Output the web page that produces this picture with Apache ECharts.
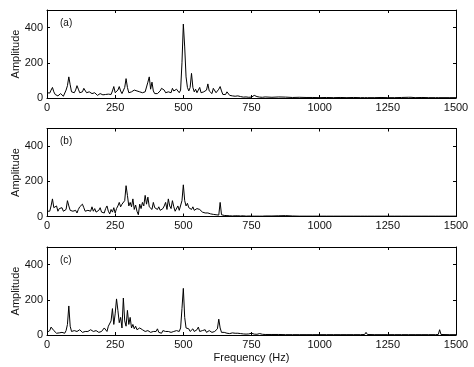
<!DOCTYPE html>
<html><head><meta charset="utf-8">
<script src="https://cdn.jsdelivr.net/npm/echarts@6/dist/echarts.min.js"></script>
<style>html,body{margin:0;padding:0;background:#fff}#c{width:474px;height:367px}</style>
</head><body><div id="c"></div>
<script>
const freqs = [
0,5,10,15,20,25,30,35,40,45,50,55,60,65,70,75,80,85,90,95,
100,105,110,115,120,125,130,135,140,145,150,155,160,165,170,175,180,185,190,195,
200,205,210,215,220,225,230,235,240,245,250,255,260,265,270,275,280,285,290,295,
300,305,310,315,320,325,330,335,340,345,350,355,360,365,370,375,380,385,390,395,
400,405,410,415,420,425,430,435,440,445,450,455,460,465,470,475,480,485,490,495,
500,505,510,515,520,525,530,535,540,545,550,555,560,565,570,575,580,585,590,595,
600,605,610,615,620,625,630,635,640,645,650,655,660,665,670,675,680,685,690,695,
700,710,720,730,740,750,760,770,780,790,800,
825,850,875,900,925,950,975,1000,1025,1050,1075,1100,1125,1150,1165,1170,1175,1200,
1225,1250,1275,1300,1325,1330,1335,1350,1375,1400,1425,1435,1440,1445,1450,1475,1500];

const ampA = [
30,25,28,45,60,35,20,15,12,18, 25,15,10,20,45,70,120,75,35,25,
30,45,70,50,30,40,35,55,50,30, 25,35,40,25,20,30,35,15,20,25,
20,18,25,20,15,22,25,20,40,65, 30,20,45,65,40,25,35,60,110,60,
30,25,35,30,45,35,40,30,35,25, 30,40,35,45,90,120,50,90,40,25,
20,25,30,40,55,65,45,30,25,35, 40,30,55,40,35,50,60,30,45,200,
420,290,120,60,40,60,140,60,35,50, 30,45,60,30,25,35,30,45,80,40,
30,25,55,45,30,40,50,65,40,20, 25,20,35,40,15,10,12,8,10,15,
12,8,5,6,4,5,15,8,5,4,6,
4,6,5,3,4,3,3,2,3,2,3,2,3,2,2,3,2,2,
3,2,2,3,4,10,4,2,3,2,2,2,3,2,2,2,2];

const ampB = [
30,40,30,60,100,50,40,60,30,45, 35,50,30,25,40,90,60,35,45,30,
25,35,20,40,55,45,70,50,30,25, 35,25,30,55,30,45,25,20,35,50,
25,30,20,45,60,30,15,40,25,50, 20,45,60,80,55,70,60,90,175,120,
60,80,55,100,40,65,30,10,70,45, 80,60,120,70,110,55,60,40,80,50,
60,40,55,35,25,45,60,80,40,100, 60,45,90,55,30,40,60,35,40,90,
180,90,60,75,50,45,40,55,35,40, 45,50,40,30,25,30,20,15,20,12,
15,10,12,8,10,6,8,80,10,8, 6,10,5,8,4,6,3,5,4,3,
4,3,4,2,3,2,2,2,2,2,3,
3,4,5,3,2,2,2,2,2,2,2,2,2,2,2,2,2,2,
2,2,2,2,2,2,2,2,2,2,2,2,2,2,2,2,2];

const ampC = [
15,20,25,45,55,25,15,10,20,12, 8,15,20,10,25,60,165,50,20,15,
25,30,20,25,30,20,15,25,20,30, 20,25,30,35,20,30,25,20,15,25,
20,15,40,30,20,50,60,80,150,60, 120,205,140,70,100,40,210,80,50,140,
60,100,40,60,35,50,30,25,40,35, 30,25,20,30,25,20,15,25,20,30,
20,35,15,20,10,25,15,20,25,20, 30,15,25,20,30,25,35,20,40,150,
265,100,40,30,35,20,25,35,20,25, 30,45,20,15,25,20,30,15,20,25,
20,15,25,20,15,35,90,40,15,10, 15,12,10,15,8,10,12,8,10,15,
10,8,6,5,6,10,5,4,8,4,3,
3,3,2,2,2,2,2,2,2,2,2,2,2,2,3,15,3,2,
2,2,2,2,2,2,2,2,2,2,2,3,30,3,2,2,2];

const panelLabels = ['(a)', '(b)', '(c)'];
const xTicks = [0, 250, 500, 750, 1000, 1250, 1500];
const yTicks = [0, 200, 400];

const FONT = 'Liberation Sans';
const tops = [10, 128.5, 247];
const H = 88;
const series = [ampA, ampB, ampC];

const grids = [], xAxes = [], yAxes = [], ser = [], titles = [];
tops.forEach((t, i) => {
  grids.push({left: 47, right: 18, top: t, height: H, outerBoundsMode: 'none', containLabel: false});
  const common = {
    min: 0, max: 1500, interval: 250, gridIndex: i, type: 'value',
    axisLine: {onZero: false, lineStyle: {color: '#000', width: 1}},
    axisTick: {inside: true, length: 3, lineStyle: {color: '#000'}},
    splitLine: {show: false}
  };
  xAxes.push(Object.assign({}, common, {
    position: 'bottom',
    axisLabel: {color: '#111', fontFamily: FONT, fontSize: 11, margin: 4,
      formatter: v => xTicks.includes(v) ? String(v) : ''},
    name: i === 2 ? 'Frequency (Hz)' : '', nameLocation: 'middle', nameGap: 17,
    nameMoveOverlap: false,
    nameTextStyle: {color: '#111', fontFamily: FONT, fontSize: 11}
  }));
  xAxes.push(Object.assign({}, common, {position: 'top', axisLabel: {show: false}}));
  const ycommon = {
    min: 0, max: 500, interval: 200, gridIndex: i, type: 'value',
    axisLine: {onZero: false, lineStyle: {color: '#000', width: 1}},
    axisTick: {inside: true, length: 3, lineStyle: {color: '#000'}},
    splitLine: {show: false}
  };
  yAxes.push(Object.assign({}, ycommon, {
    position: 'left',
    axisLabel: {color: '#111', fontFamily: FONT, fontSize: 11, margin: 4, showMaxLabel: false,
      formatter: v => yTicks.includes(v) ? String(v) : ''},
    name: 'Amplitude', nameLocation: 'middle', nameGap: 26, nameRotate: 90,
    nameMoveOverlap: false,
    nameTextStyle: {color: '#111', fontFamily: FONT, fontSize: 11}
  }));
  yAxes.push(Object.assign({}, ycommon, {position: 'right', axisLabel: {show: false}}));
  ser.push({
    type: 'line', xAxisIndex: i * 2, yAxisIndex: i * 2, showSymbol: false,
    data: freqs.map((f, k) => [f, series[i][k]]),
    lineStyle: {color: '#000', width: 1}, animation: false, silent: true
  });
  titles.push({text: panelLabels[i], left: 55, top: t + 3,
    textStyle: {fontFamily: FONT, fontSize: 10, fontWeight: 'normal', color: '#111'}});
});

const chart = echarts.init(document.getElementById('c'), null, {renderer: 'canvas'});
chart.setOption({
  animation: false,
  backgroundColor: '#fff',
  title: titles,
  grid: grids,
  xAxis: xAxes,
  yAxis: yAxes,
  series: ser
});
</script>
</body></html>
